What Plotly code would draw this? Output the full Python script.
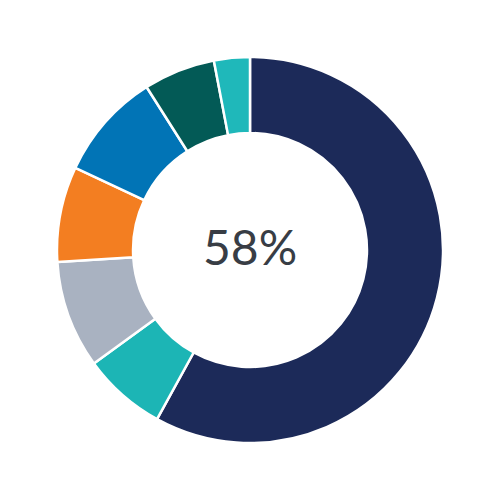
import plotly.graph_objects as go

# slices, clockwise from 12 o'clock
labels = ["Share", "Segment B", "Segment C", "Segment D", "Segment E", "Segment F", "Segment G"]
values = [58, 7, 9, 8, 9, 6, 3]
colors = ["#1c2a59", "#1cb5b5", "#a9b2c1", "#f37e21", "#0174b6", "#035a56", "#1fb8ba"]
center_label = "58%"

fig = go.Figure(
    go.Pie(
        labels=labels,
        values=values,
        hole=0.606,
        sort=False,
        direction="clockwise",
        rotation=0,
        marker=dict(colors=colors, line=dict(color="white", width=2.5)),
        textinfo="none",
        hoverinfo="label+percent",
    )
)

# page body adds an 8px offset, so the margins are shifted to compensate
fig.update_layout(
    width=500,
    height=500,
    showlegend=False,
    margin=dict(l=49, r=65, t=49, b=65),
    paper_bgcolor="white",
    annotations=[
        dict(
            text=center_label,
            x=0.5,
            y=0.5,
            xref="paper",
            yref="paper",
            yshift=4,
            showarrow=False,
            font=dict(family="Lato", size=48, color="#383d45"),
        )
    ],
)

fig.write_html("out.html")
